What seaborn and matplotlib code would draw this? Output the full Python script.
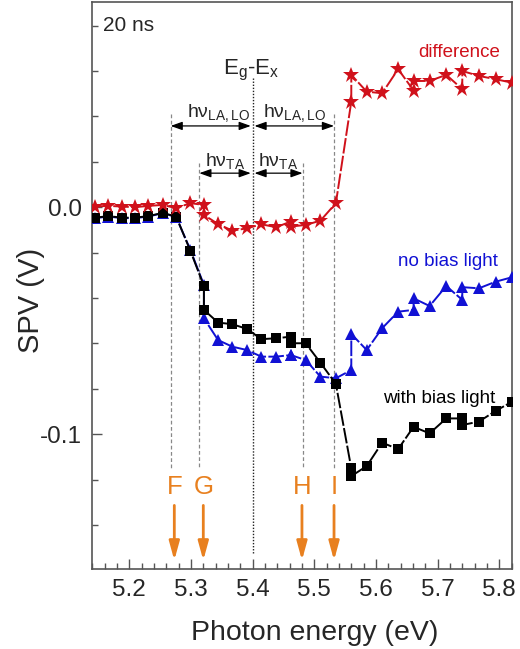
import matplotlib
matplotlib.use("Agg")
import matplotlib.pyplot as plt
from matplotlib.ticker import MultipleLocator, FormatStrFormatter
import seaborn as sns

# photon energies (eV); repeated values are where two scans overlap
energy = [5.145, 5.166, 5.188, 5.209, 5.231, 5.254, 5.276, 5.299, 5.321, 5.321,
          5.344, 5.367, 5.391, 5.414, 5.438, 5.462, 5.462, 5.486, 5.510, 5.535,
          5.560, 5.560, 5.585, 5.610, 5.636, 5.661, 5.661, 5.687, 5.714, 5.740,
          5.740, 5.767, 5.794, 5.821]

spv_bias = [-0.0046, -0.0039, -0.0046, -0.0046, -0.0039, -0.0025, -0.0041, -0.0191, -0.0347, -0.0452,
            -0.0508, -0.0515, -0.0536, -0.0581, -0.0577, -0.0570, -0.0599, -0.0599, -0.0685, -0.0778,
            -0.1150, -0.1184, -0.1140, -0.1037, -0.1065, -0.0967, -0.0967, -0.0996, -0.0930, -0.0930,
            -0.0959, -0.0944, -0.0897, -0.0856]

spv_nobias = [-0.0048, -0.0041, -0.0048, -0.0048, -0.0041, -0.0026, -0.0043, -0.0188, -0.0342, -0.0489,
              -0.0585, -0.0614, -0.0629, -0.0658, -0.0658, -0.0651, -0.0651, -0.0673, -0.0746, -0.0753,
              -0.0717, -0.0558, -0.0629, -0.0533, -0.0460, -0.0452, -0.0401, -0.0435, -0.0347, -0.0408,
              -0.0352, -0.0357, -0.0328, -0.0308]

spv_diff = [0.0003, 0.0006, 0.0003, 0.0000, 0.0006, 0.0010, -0.0004, 0.0018, 0.0010, -0.0034,
            -0.0074, -0.0103, -0.0093, -0.0075, -0.0088, -0.0063, -0.0085, -0.0078, -0.0059, 0.0018,
            0.0465, 0.0583, 0.0509, 0.0502, 0.0608, 0.0514, 0.0556, 0.0556, 0.0583, 0.0520,
            0.0600, 0.0578, 0.0564, 0.0548]

# transitions marked in the figure
trans_labels = ["F", "G", "H", "I"]
trans_lines = [5.267, 5.3135, 5.481, 5.532]
trans_tops = [0.041, 0.0195, 0.0195, 0.041]
trans_arrows = [5.273, 5.320, 5.480, 5.532]
eg_ex = 5.40

red = "#d0111b"
blue = "#1111d4"
orange = "#e8801f"
frame = "#555555"

sns.set_theme(style="ticks")
plt.rcParams["font.family"] = ["Liberation Sans", "DejaVu Sans"]
plt.rcParams["mathtext.fontset"] = "custom"
plt.rcParams["mathtext.rm"] = "Liberation Sans"
plt.rcParams["mathtext.it"] = "Liberation Sans:italic"
plt.rcParams["axes.unicode_minus"] = False

fig = plt.figure(figsize=(5.2, 6.49), dpi=100)
ax = fig.add_axes([0.1769, 0.1233, 0.8077, 0.8737])

dash = (0, (8, 1.2))
sns.lineplot(x=energy, y=spv_nobias, ax=ax, color=blue, marker="^", markersize=8.5,
             markeredgewidth=0, linewidth=1.4, linestyle=dash, sort=False, estimator=None, zorder=3)
sns.lineplot(x=energy, y=spv_bias, ax=ax, color="black", marker="s", markersize=7.2,
             markeredgewidth=0, linewidth=1.4, linestyle=dash, sort=False, estimator=None, zorder=4)
sns.lineplot(x=energy, y=spv_diff, ax=ax, color=red, marker="*", markersize=12,
             markeredgewidth=0, linewidth=1.4, linestyle=dash, sort=False, estimator=None, zorder=5)

# guide lines
for x, top in zip(trans_lines, trans_tops):
    ax.plot([x, x], [top, -0.1148], color="#888888", lw=0.9, ls=(0, (3, 2)), zorder=1)
ax.plot([eg_ex, eg_ex], [0.057, -0.1523], color="#222222", lw=1.0, ls=(0, (1, 1.2)), zorder=1)

# phonon arrows
arrow_kw = dict(arrowstyle="<|-|>,head_length=0.7,head_width=0.25", color="black", lw=0.9,
                shrinkA=0, shrinkB=0, mutation_scale=10)
ax.annotate("", xy=(eg_ex - 0.003, 0.0358), xytext=(trans_lines[0], 0.0358), arrowprops=arrow_kw)
ax.annotate("", xy=(trans_lines[3], 0.0358), xytext=(eg_ex + 0.003, 0.0358), arrowprops=arrow_kw)
ax.annotate("", xy=(eg_ex - 0.003, 0.015), xytext=(trans_lines[1], 0.015), arrowprops=arrow_kw)
ax.annotate("", xy=(trans_lines[2], 0.015), xytext=(eg_ex + 0.003, 0.015), arrowprops=arrow_kw)

ax.text(5.345, 0.0398, r"hν$_\mathregular{LA,LO}$", fontsize=14, ha="center", va="baseline")
ax.text(5.4686, 0.0398, r"hν$_\mathregular{LA,LO}$", fontsize=14, ha="center", va="baseline")
ax.text(5.355, 0.0183, r"hν$_\mathregular{TA}$", fontsize=14, ha="center", va="baseline")
ax.text(5.441, 0.0183, r"hν$_\mathregular{TA}$", fontsize=14, ha="center", va="baseline")
ax.text(eg_ex - 0.003, 0.0587, r"E$_\mathregular{g}$-E$_\mathregular{x}$", fontsize=16,
        ha="center", va="baseline")

# orange markers
for lab, x in zip(trans_labels, trans_arrows):
    ax.text(x, -0.1233, lab, color=orange, fontsize=18.5, ha="center", va="center")
    ax.annotate("", xy=(x, -0.1555), xytext=(x, -0.1313),
                arrowprops=dict(arrowstyle="-|>,head_length=0.8,head_width=0.22", color=orange,
                                lw=2, shrinkA=0, shrinkB=0, mutation_scale=14))

# series labels
ax.text(5.8008, 0.068, "difference", color=red, fontsize=13.5, ha="right", va="center")
ax.text(5.7975, -0.0241, "no bias light", color=blue, fontsize=13.5, ha="right", va="center")
ax.text(5.7927, -0.0844, "with bias light", color="black", fontsize=13.5, ha="right", va="center")
ax.text(0.026, 0.959, "20 ns", transform=ax.transAxes, fontsize=15, ha="left", va="center")

ax.set_xlim(5.1395, 5.8206)
ax.set_ylim(-0.1593, 0.0904)
ax.xaxis.set_major_locator(MultipleLocator(0.1))
ax.xaxis.set_minor_locator(MultipleLocator(0.02))
ax.yaxis.set_major_locator(MultipleLocator(0.1))
ax.yaxis.set_minor_locator(MultipleLocator(0.02))
ax.xaxis.set_major_formatter(FormatStrFormatter("%.1f"))
ax.yaxis.set_major_formatter(FormatStrFormatter("%.1f"))

ax.tick_params(which="both", direction="in", color=frame, width=1.0, labelsize=17.5,
               top=False, right=False, pad=7)
ax.tick_params(which="major", length=7)
ax.tick_params(which="minor", length=4)
for s in ax.spines.values():
    s.set_color(frame)
    s.set_linewidth(1.2)

ax.set_xlabel("Photon energy (eV)", fontsize=20.5)
ax.set_ylabel("SPV (V)", fontsize=21)
ax.xaxis.set_label_coords(0.53, -0.09)
ax.yaxis.set_label_coords(-0.112, 0.474)

fig.savefig("out.png", dpi=100)
